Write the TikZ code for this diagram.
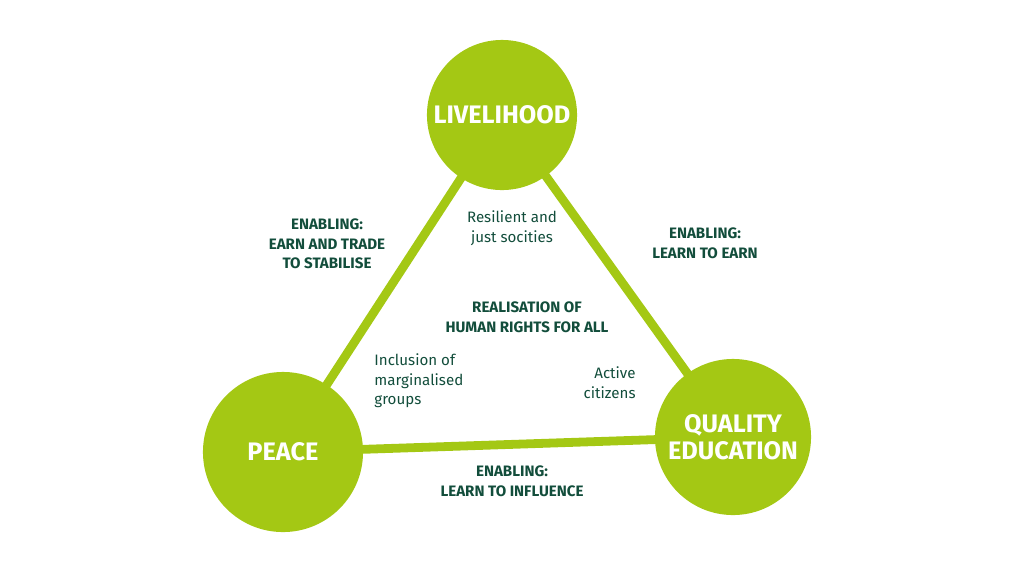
\documentclass[tikz,border=0pt]{standalone}
\usepackage{fontspec}
\setmainfont{Fira Sans}
\definecolor{leaf}{HTML}{A4C814}
\definecolor{ink}{HTML}{124D3B}
\begin{document}
\begin{tikzpicture}[x=0.01cm,y=-0.01cm,
  hub/.style={circle,fill=leaf,inner sep=0pt,text=white,align=center,font=\fontsize{7.2}{7.6}\selectfont\bfseries},
  link/.style={leaf,line width=2.5pt,shorten <=-4pt,shorten >=-4pt},
  head/.style={text=ink,align=center,font=\fontsize{4.3}{5.6}\selectfont\bfseries},
  note/.style={text=ink,font=\fontsize{4.3}{5.6}\selectfont}]
  \useasboundingbox (0,0) rectangle (1024,575);
  \node[hub,minimum size=1.5cm] (live) at (502,115) {LIVELIHOOD};
  \node[hub,minimum size=1.6cm] (peace) at (283,452) {PEACE};
  \node[hub,minimum size=1.56cm] (edu) at (733,437) {QUALITY\\EDUCATION};

  \draw[link] (live) -- (peace);
  \draw[link] (live) -- (edu);
  \draw[link] (peace) -- (edu);

  \node[head] (earn) at (327,244) {ENABLING:\\EARN AND TRADE\\TO STABILISE};
  \node[head] (learn) at (705,243) {ENABLING:\\LEARN TO EARN};
  \node[head] (rights) at (527,317) {REALISATION OF\\HUMAN RIGHTS FOR ALL};
  \node[head] (influence) at (512,481) {ENABLING:\\LEARN TO INFLUENCE};
  \node[note,align=center] (resilient) at (512,228) {Resilient and\\just socities};
  \node[note,align=left,anchor=west] (inclusion) at (362,381) {Inclusion of\\marginalised\\groups};
  \node[note,align=right,anchor=east] (active) at (648,383) {Active\\citizens};
\end{tikzpicture}
\end{document}
